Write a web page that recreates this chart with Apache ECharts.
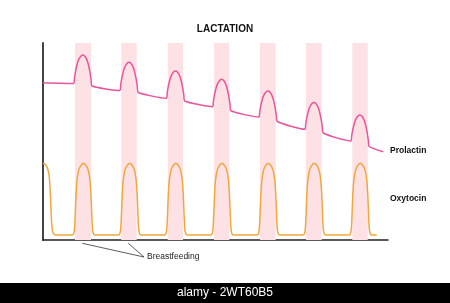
<!DOCTYPE html>
<html>
<head>
<meta charset="utf-8">
<script src="https://cdn.jsdelivr.net/npm/echarts@6/dist/echarts.min.js"></script>
<style>
html,body{margin:0;padding:0;background:#fff;}
#chart{width:450px;height:303px;}
</style>
</head>
<body>
<div id="chart"></div>
<script>
// ---- Data (time in relative units from axis origin, level 0-100) ----
const chartTitle = 'LACTATION';
const seriesNames = ['Prolactin', 'Oxytocin'];
const annotationText = 'Breastfeeding';

// Breastfeeding periods (pink bands)
const feedStart = [32, 78.3, 124.7, 171, 217, 263, 309.3];
const feedEnd   = [48, 93.7, 140, 186.3, 232.7, 278.7, 324.7];

// Prolactin curve
const prolactinTime = [
  0,
  30.6, 31.5, 32.3, 33.1, 34.3, 35.8, 37.8, 39.8, 41.8, 43.8, 45.3, 46.5, 47.3, 48.1, 49,
  76.8, 77.7, 78.5, 79.3, 80.5, 82, 84, 86, 88, 90, 91.5, 92.7, 93.5, 94.3, 95.2,
  123.3, 124.2, 125, 125.8, 127, 128.5, 130.5, 132.5, 134.5, 136.5, 138, 139.2, 140, 140.8, 141.7,
  169.5, 170.4, 171.2, 172, 173.2, 174.7, 176.7, 178.7, 180.7, 182.7, 184.2, 185.4, 186.2, 187, 187.9,
  215.8, 216.7, 217.5, 218.3, 219.5, 221, 223, 225, 227, 229, 230.5, 231.7, 232.5, 233.3, 234.2,
  261.8, 262.7, 263.5, 264.3, 265.5, 267, 269, 271, 273, 275, 276.5, 277.7, 278.5, 279.3, 280.2,
  307.8, 308.7, 309.5, 310.3, 311.5, 313, 315, 317, 319, 321, 322.5, 323.7, 324.5, 325.3, 326.2,
  340.3
];
const prolactinLevel = [
  79.85,
  79.44, 82.33, 84.94, 86.96, 89.57, 91.74, 93.33, 93.91, 93.28, 91.55, 89.19, 86.35, 84.15, 81.32, 78.17,
  75.89, 78.75, 81.33, 83.33, 85.91, 88.05, 89.63, 90.20, 89.59, 87.90, 85.60, 82.84, 80.70, 77.94, 74.87,
  71.93, 74.70, 77.20, 79.14, 81.63, 83.71, 85.24, 85.79, 85.18, 83.51, 81.22, 78.48, 76.35, 73.61, 70.56,
  67.66, 70.44, 72.95, 74.89, 77.40, 79.48, 81.01, 81.57, 80.93, 79.18, 76.79, 73.92, 71.69, 68.82, 65.63,
  62.44, 65.08, 67.45, 69.30, 71.67, 73.65, 75.10, 75.63, 75.01, 73.31, 70.99, 68.20, 66.03, 63.25, 60.15,
  56.19, 58.91, 61.36, 63.27, 65.72, 67.76, 69.26, 69.80, 69.18, 67.48, 65.15, 62.36, 60.20, 57.41, 54.31,
  50.25, 52.89, 55.27, 57.11, 59.49, 61.47, 62.92, 63.45, 62.81, 61.05, 58.65, 55.77, 53.54, 50.66, 47.46,
  44.82
];

// Oxytocin curve
const oxytocinTime = [
  0, 2.5, 4.5, 6, 7, 7.8, 8.5, 9.5, 11, 13,
  29, 30.2, 31.2, 31.9, 32.5, 33.1, 34, 35.5, 37.5, 40.5, 43.5, 45.5, 47, 47.9, 48.5, 49.1, 49.8, 50.8, 52,
  75.2, 76.4, 77.4, 78.1, 78.7, 79.3, 80.2, 81.7, 83.7, 86.7, 89.7, 91.7, 93.2, 94.1, 94.7, 95.3, 96, 97, 98.2,
  121.3, 122.5, 123.5, 124.2, 124.8, 125.4, 126.3, 127.8, 129.8, 132.8, 135.8, 137.8, 139.3, 140.2, 140.8, 141.4, 142.1, 143.1, 144.3,
  167.5, 168.7, 169.7, 170.4, 171, 171.6, 172.5, 174, 176, 179, 182, 184, 185.5, 186.4, 187, 187.6, 188.3, 189.3, 190.5,
  213.8, 215, 216, 216.7, 217.3, 217.9, 218.8, 220.3, 222.3, 225.3, 228.3, 230.3, 231.8, 232.7, 233.3, 233.9, 234.6, 235.6, 236.8,
  259.8, 261, 262, 262.7, 263.3, 263.9, 264.8, 266.3, 268.3, 271.3, 274.3, 276.3, 277.8, 278.7, 279.3, 279.9, 280.6, 281.6, 282.8,
  305.8, 307, 308, 308.7, 309.3, 309.9, 310.8, 312.3, 314.3, 317.3, 320.3, 322.3, 323.8, 324.7, 325.3, 325.9, 326.6, 327.6, 328.8,
  333.7
];
const oxytocinLevel = [
  38.93, 38.3, 36.4, 33.0, 27.0, 18.0, 10.0, 4.5, 2.9, 2.54,
  2.54, 2.90, 4.36, 8.73, 16.37, 23.65, 30.20, 34.93, 37.47, 38.93, 37.47, 34.93, 30.20, 23.65, 16.37, 8.73, 4.36, 2.90, 2.54,
  2.54, 2.90, 4.36, 8.73, 16.37, 23.65, 30.20, 34.93, 37.47, 38.93, 37.47, 34.93, 30.20, 23.65, 16.37, 8.73, 4.36, 2.90, 2.54,
  2.54, 2.90, 4.36, 8.73, 16.37, 23.65, 30.20, 34.93, 37.47, 38.93, 37.47, 34.93, 30.20, 23.65, 16.37, 8.73, 4.36, 2.90, 2.54,
  2.54, 2.90, 4.36, 8.73, 16.37, 23.65, 30.20, 34.93, 37.47, 38.93, 37.47, 34.93, 30.20, 23.65, 16.37, 8.73, 4.36, 2.90, 2.54,
  2.54, 2.90, 4.36, 8.73, 16.37, 23.65, 30.20, 34.93, 37.47, 38.93, 37.47, 34.93, 30.20, 23.65, 16.37, 8.73, 4.36, 2.90, 2.54,
  2.54, 2.90, 4.36, 8.73, 16.37, 23.65, 30.20, 34.93, 37.47, 38.93, 37.47, 34.93, 30.20, 23.65, 16.37, 8.73, 4.36, 2.90, 2.54,
  2.54, 2.90, 4.36, 8.73, 16.37, 23.65, 30.20, 34.93, 37.47, 38.93, 37.47, 34.93, 30.20, 23.65, 16.37, 8.73, 4.36, 2.90, 2.54,
  2.54
];

const xMax = 345;
const yMax = 100;

// ---- Chart ----
const FONT = '"Liberation Sans", Arial, Helvetica, sans-serif';
const chart = echarts.init(document.getElementById('chart'), null, {renderer: 'canvas'});

const pair = (t, v) => t.map((x, i) => [x, v[i]]);

chart.setOption({
  animation: false,
  backgroundColor: '#ffffff',
  grid: {left: 43, right: 62, top: 43, bottom: 63, containLabel: false},
  title: {
    text: chartTitle,
    left: 'center',
    top: 19,
    textStyle: {fontFamily: FONT, fontSize: 10, fontWeight: 'bold', color: '#111'}
  },
  xAxis: {
    type: 'value', min: 0, max: xMax,
    axisLine: {show: true, lineStyle: {color: '#222', width: 1.5}},
    axisTick: {show: false}, axisLabel: {show: false}, splitLine: {show: false}
  },
  yAxis: {
    type: 'value', min: 0, max: yMax,
    axisLine: {show: true, lineStyle: {color: '#444', width: 2}},
    axisTick: {show: false}, axisLabel: {show: false}, splitLine: {show: false}
  },
  series: [
    {
      name: 'feeding', type: 'line', data: [], z: 1, silent: true,
      markArea: {
        silent: true,
        itemStyle: {color: '#fde1e5'},
        data: feedStart.map((s, i) => [{xAxis: s}, {xAxis: feedEnd[i]}])
      }
    },
    {
      name: seriesNames[0], type: 'line', z: 3,
      data: pair(prolactinTime, prolactinLevel),
      showSymbol: false, smooth: 0.2,
      lineStyle: {color: '#e8559b', width: 1.5}
    },
    {
      name: seriesNames[1], type: 'line', z: 3,
      data: pair(oxytocinTime, oxytocinLevel),
      showSymbol: false, smooth: 0.2,
      lineStyle: {color: '#f0a83c', width: 1.5}
    }
  ],
  graphic: [
    {type: 'text', left: 390, top: 146, style: {text: seriesNames[0], font: 'bold 8.5px ' + FONT, fill: '#111'}},
    {type: 'text', left: 390, top: 194, style: {text: seriesNames[1], font: 'bold 8.5px ' + FONT, fill: '#111'}},
    {type: 'text', left: 147, top: 252, style: {text: annotationText, font: '8.5px ' + FONT, fill: '#222'}},
    {type: 'line', shape: {x1: 82.3, y1: 243.3, x2: 144, y2: 257}, style: {stroke: '#333', lineWidth: 0.8}},
    {type: 'line', shape: {x1: 128.3, y1: 243.3, x2: 144, y2: 257}, style: {stroke: '#333', lineWidth: 0.8}},
    {type: 'rect', shape: {x: 0, y: 283, width: 450, height: 20}, style: {fill: '#000'}},
    {type: 'text', x: 225, y: 293, style: {text: 'alamy - 2WT60B5', font: '12px ' + FONT, fill: '#fff', align: 'center', verticalAlign: 'middle'}}
  ]
});
</script>
</body>
</html>
